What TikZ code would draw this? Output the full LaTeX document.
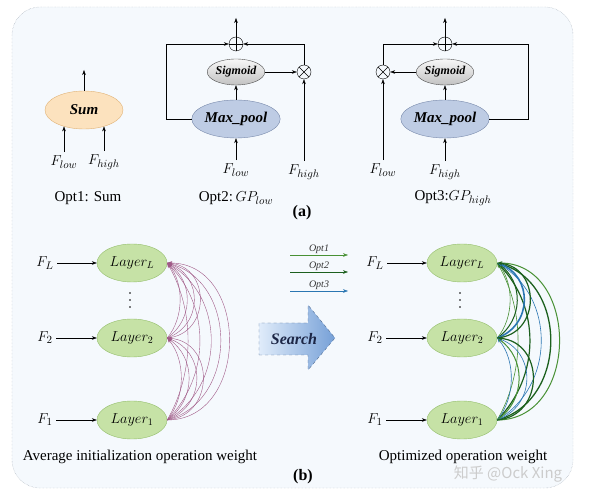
\documentclass[tikz,border=0pt]{standalone}
\usepackage{amsmath}
\usepackage{fontspec}
\setmainfont{Liberation Serif}
\newfontfamily\cjkfont{Noto Sans CJK SC}
\usetikzlibrary{positioning,arrows.meta,shapes.geometric}

\definecolor{bgblue}{RGB}{245,249,253}
\definecolor{framegray}{RGB}{150,160,172}
\definecolor{sumfill}{RGB}{252,226,190}
\definecolor{sumdraw}{RGB}{224,178,118}
\definecolor{poolfill}{RGB}{190,204,228}
\definecolor{pooldraw}{RGB}{118,136,170}
\definecolor{layfill}{RGB}{198,226,166}
\definecolor{laydraw}{RGB}{148,190,108}
\definecolor{arcpurple}{RGB}{160,90,135}
\definecolor{optgreen}{RGB}{72,145,52}
\definecolor{optdark}{RGB}{28,96,30}
\definecolor{optblue}{RGB}{42,118,178}
\definecolor{srchlight}{RGB}{224,236,250}
\definecolor{srchdark}{RGB}{118,160,215}

\tikzset{
  ell/.style={ellipse, draw, inner sep=0pt},
  sumell/.style={ell, fill=sumfill, draw=sumdraw, minimum width=78pt, minimum height=38pt,
    font=\fontsize{15}{17}\selectfont\bfseries\itshape},
  sigell/.style={ell, top color=gray!6, bottom color=gray!48, draw=gray!60!black,
    minimum width=50pt, minimum height=26pt, font=\fontsize{12}{14}\selectfont\bfseries\itshape},
  poolell/.style={ell, fill=poolfill, draw=pooldraw, minimum width=78pt, minimum height=38pt,
    font=\fontsize{15}{17}\selectfont\bfseries\itshape},
  layell/.style={ell, fill=layfill, draw=laydraw, minimum width=70pt, minimum height=38pt,
    font=\fontsize{14}{16}\selectfont},
  addc/.style={circle, draw, fill=bgblue, minimum size=14pt, inner sep=0pt,
    path picture={\draw (path picture bounding box.north) -- (path picture bounding box.south)
      (path picture bounding box.west) -- (path picture bounding box.east);}},
  mulc/.style={circle, draw, fill=bgblue, minimum size=14pt, inner sep=0pt,
    path picture={\draw (path picture bounding box.north west) -- (path picture bounding box.south east)
      (path picture bounding box.south west) -- (path picture bounding box.north east);}},
  flab/.style={font=\fontsize{15}{17}\selectfont},
  captxt/.style={font=\fontsize{15}{17}\selectfont},
  boldtxt/.style={font=\fontsize{16}{18}\selectfont\bfseries},
  optlab/.style={font=\fontsize{10}{11}\selectfont\itshape, inner sep=1.5pt},
}

\begin{document}
\begin{tikzpicture}[x=1pt, y=1pt, >={Stealth[length=5pt,width=3.6pt]}]
\useasboundingbox (0,0) rectangle (589,498);
\draw[framegray, densely dotted, fill=bgblue, rounded corners=28pt] (12,10) rectangle (573,491);

% Opt1
\node[sumell] (s1) at (84,388) {Sum};
\coordinate (o1) at (84,428);
\node[flab] (fl1) at (64,336) {$F_{low}$};
\node[flab] (fh1) at (104,336) {$F_{high}$};
\draw[->] (s1.north) -- (o1);
\draw[->] (fl1.north) -- (fl1.north |- s1.219);
\draw[->] (fh1.north) -- (fh1.north |- s1.321);
\node[captxt] (c1) at (88,300) {Opt1: Sum};

% Opt2
\node[addc] (a2) at (236,454) {};
\node[sigell] (g2) at (236,426) {Sigmoid};
\node[poolell] (p2) at (236,379) {Max\_pool};
\node[mulc] (m2) at (304,426) {};
\node[flab] (fl2) at (236,328) {$F_{low}$};
\node[flab] (fh2) at (304,326) {$F_{high}$};
\coordinate (o2) at (236,480);
\draw[->] (a2.north) -- (o2);
\draw[->] (fl2.north) -- (p2.south);
\draw[->] (p2.north) -- (g2.south);
\draw[->] (g2.east) -- (m2.west);
\draw[->] (fh2.north) -- (m2.south);
\draw[->] (m2.north) |- (a2.east);
\draw[->] (p2.west) -- ++(-25,0) |- (a2.west);
\node[captxt] (c2) at (236,300) {Opt2:\,$GP_{low}$};

% Opt3
\node[addc] (a3) at (445,454) {};
\node[sigell] (g3) at (445,426) {Sigmoid};
\node[poolell] (p3) at (445,379) {Max\_pool};
\node[mulc] (m3) at (383,426) {};
\node[flab] (fl3) at (383,328) {$F_{low}$};
\node[flab] (fh3) at (445,326) {$F_{high}$};
\coordinate (o3) at (445,480);
\draw[->] (a3.north) -- (o3);
\draw[->] (fh3.north) -- (p3.south);
\draw[->] (p3.north) -- (g3.south);
\draw[->] (g3.west) -- (m3.east);
\draw[->] (fl3.north) -- (m3.south);
\draw[->] (m3.north) |- (a3.west);
\draw[->] (p3.east) -- ++(39,0) |- (a3.east);
\node[captxt] (c3) at (453,300) {Opt3:$GP_{high}$};

\node[boldtxt] (pa) at (302,285) {(a)};

% (b) layers
\def\xl{132}
\def\xr{462}
\def\ya{78}
\def\yb{160}
\def\yc{235}

\node[layell] (l1) at (\xl,\ya) {$Layer_1$};
\node[layell] (l2) at (\xl,\yb) {$Layer_2$};
\node[layell] (lL) at (\xl,\yc) {$Layer_L$};
\node[flab] (f1) at (45,\ya) {$F_1$};
\node[flab] (f2) at (45,\yb) {$F_2$};
\node[flab] (fL) at (45,\yc) {$F_L$};
\foreach \d in {191,198,205} \fill (130,\d) circle (0.8pt);
\draw[->] (f1.east) -- (l1.west);
\draw[->] (f2.east) -- (l2.west);
\draw[->] (fL.east) -- (lL.west);

\foreach \a/\lo in {60/0.9, 45/1.0, 30/1.1, 15/1.2, 0/1.35}
  \draw[arcpurple, ->] (l1.east) to[out=\a, in=-\a, looseness=\lo] (lL.east);
\foreach \a/\lo in {50/0.9, 35/1.1, 20/1.3, 5/1.5} {
  \draw[arcpurple, ->] (l2.east) to[out=\a, in=-\a, looseness=\lo] (lL.east);
  \draw[arcpurple, ->] (l1.east) to[out=\a, in=-\a, looseness=\lo] (l2.east);
}

\node[layell] (r1) at (\xr,\ya) {$Layer_1$};
\node[layell] (r2) at (\xr,\yb) {$Layer_2$};
\node[layell] (rL) at (\xr,\yc) {$Layer_L$};
\node[flab] (g1) at (375,\ya) {$F_1$};
\node[flab] (g2b) at (375,\yb) {$F_2$};
\node[flab] (gL) at (375,\yc) {$F_L$};
\foreach \d in {191,198,205} \fill (460,\d) circle (0.8pt);
\draw[->] (g1.east) -- (r1.west);
\draw[->] (g2b.east) -- (r2.west);
\draw[->] (gL.east) -- (rL.west);

\foreach \a/\lo/\c/\w in {60/0.9/optgreen/0.6, 45/1.0/optdark/1.2, 30/1.1/optblue/0.6, 15/1.2/optdark/1.3, 0/1.35/optgreen/1.0}
  \draw[\c, line width=\w pt, ->] (r1.east) to[out=\a, in=-\a, looseness=\lo] (rL.east);
\foreach \a/\lo/\c/\w in {50/0.9/optgreen/0.6, 35/1.1/optdark/1.0, 20/1.3/optblue/1.6, 5/1.5/optdark/1.2}
  \draw[\c, line width=\w pt, ->] (r2.east) to[out=\a, in=-\a, looseness=\lo] (rL.east);
\foreach \a/\lo/\c/\w in {50/0.9/optblue/0.6, 35/1.1/optgreen/1.0, 20/1.3/optblue/0.6, 5/1.5/optdark/1.2}
  \draw[\c, line width=\w pt, ->] (r1.east) to[out=\a, in=-\a, looseness=\lo] (r2.east);

% legend
\foreach \i/\y/\c in {1/243/optgreen, 2/226/optdark, 3/207/optblue} {
  \coordinate (ka\i) at (290,\y);
  \coordinate (kb\i) at (348,\y);
  \draw[\c, ->] (ka\i) -- node[optlab, above, text=black!80] {Opt\i} (kb\i);
}

% search arrow
\draw[draw=srchdark!70!black, dashed, left color=srchlight, right color=srchdark]
  (259,143) -- (308,143) -- (308,128) -- (335,160) -- (308,193) -- (308,175) -- (259,175) -- cycle;
\node[font=\fontsize{16}{18}\selectfont\bfseries\itshape, text={rgb,255:red,28;green,38;blue,70}] (srch) at (294,159) {Search};

\node[captxt] (t1) at (140,41) {Average initialization operation weight};
\node[captxt] (t2) at (463,41) {Optimized operation weight};
\node[boldtxt] (pb) at (303,21) {(b)};
\node[text=gray!40, font=\cjkfont\fontsize{15}{17}\selectfont] (wm) at (508,24) {知乎 @Ock Xing};
\end{tikzpicture}
\end{document}
